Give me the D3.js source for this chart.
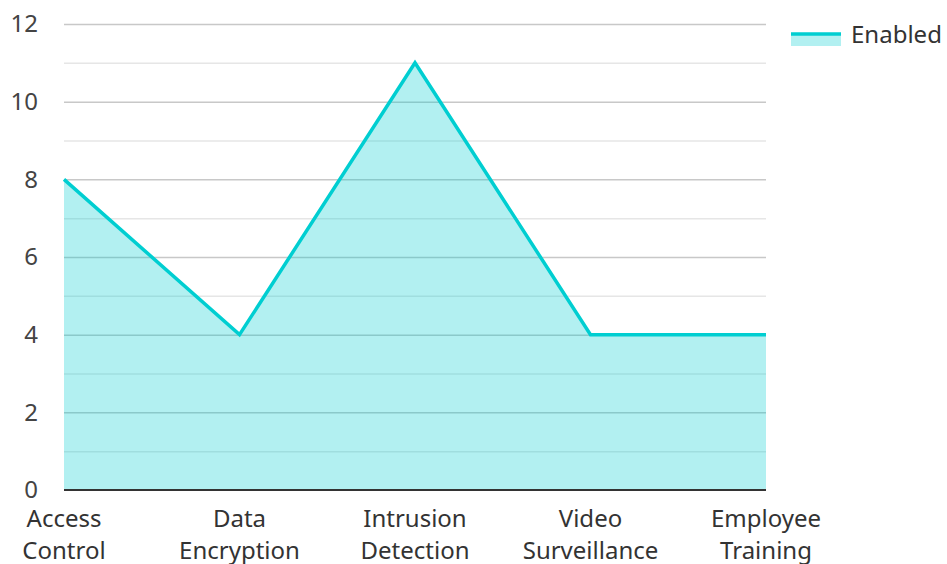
<!DOCTYPE html>
<html>
<head>
<meta charset="utf-8">
<script src="https://cdn.jsdelivr.net/npm/d3@7/dist/d3.min.js"></script>
<style>
  html, body { margin: 0; padding: 0; background: #fff; }
  svg { display: block; font-family: "Noto Sans", "Open Sans", sans-serif; }
</style>
</head>
<body>
<svg id="chart" width="947" height="564"></svg>
<script>
// Security measures and how many are enabled
const categories = [["Access", "Control"], ["Data", "Encryption"], ["Intrusion", "Detection"], ["Video", "Surveillance"], ["Employee", "Training"]];
const enabled = [8, 4, 11, 4, 4];
const yTicks = [0, 2, 4, 6, 8, 10, 12];
const seriesName = "Enabled";

const W = 947, H = 564;
const margin = { left: 64, right: 181, top: 24, bottom: 74 };
const svg = d3.select("#chart");

const keys = categories.map(c => c.join(" "));
const x = d3.scalePoint().domain(keys).range([margin.left, W - margin.right]).padding(0);
const y = d3.scaleLinear().domain([0, 12]).range([H - margin.bottom, margin.top]);

const lineColor = "#00CED1";
const fontSize = 24;

// grid: every unit, stronger on labelled values
const gridVals = d3.range(1, 13);
svg.append("g").selectAll("line").data(gridVals).join("line")
  .attr("x1", margin.left).attr("x2", W - margin.right)
  .attr("y1", d => y(d) + 0.5).attr("y2", d => y(d) + 0.5)
  .attr("stroke", d => d % 2 === 0 ? "#c8c8c8" : "#e6e6e6")
  .attr("stroke-width", 1.5);

// area + line
const area = d3.area().x((d, i) => x(keys[i])).y0(y(0)).y1(d => y(d));
const line = d3.line().x((d, i) => x(keys[i])).y(d => y(d));
svg.append("path").datum(enabled).attr("d", area)
  .attr("fill", lineColor).attr("fill-opacity", 0.3);
svg.append("path").datum(enabled).attr("d", line)
  .attr("fill", "none").attr("stroke", lineColor).attr("stroke-width", 3.5)
  .attr("stroke-linejoin", "miter");

// baseline
svg.append("line")
  .attr("x1", margin.left).attr("x2", W - margin.right)
  .attr("y1", y(0)).attr("y2", y(0))
  .attr("stroke", "#333").attr("stroke-width", 2);

// y axis labels
const yAxis = d3.axisLeft(y).tickValues(yTicks).tickSize(0).tickPadding(26);
const gy = svg.append("g").attr("transform", `translate(${margin.left},0)`).call(yAxis);
gy.select(".domain").remove();
gy.selectAll("text").attr("font-size", fontSize).attr("fill", "#444")
  .attr("font-family", "Noto Sans, Open Sans, sans-serif");

// x axis labels (two lines)
const gx = svg.append("g");
categories.forEach((c, i) => {
  const t = gx.append("text")
    .attr("x", x(keys[i])).attr("y", 527)
    .attr("text-anchor", "middle").attr("font-size", fontSize).attr("fill", "#333");
  c.forEach((part, j) => {
    t.append("tspan").attr("x", x(keys[i])).attr("dy", j === 0 ? 0 : 32).text(part);
  });
});

// legend
const lg = svg.append("g").attr("transform", "translate(791,34)");
lg.append("rect").attr("x", 0).attr("y", 0).attr("width", 50).attr("height", 12)
  .attr("fill", lineColor).attr("fill-opacity", 0.3);
lg.append("line").attr("x1", 0).attr("x2", 50).attr("y1", 0).attr("y2", 0)
  .attr("stroke", lineColor).attr("stroke-width", 3.5);
lg.append("text").attr("x", 60).attr("y", 9).attr("font-size", fontSize).attr("fill", "#333")
  .text(seriesName);
</script>
</body>
</html>
